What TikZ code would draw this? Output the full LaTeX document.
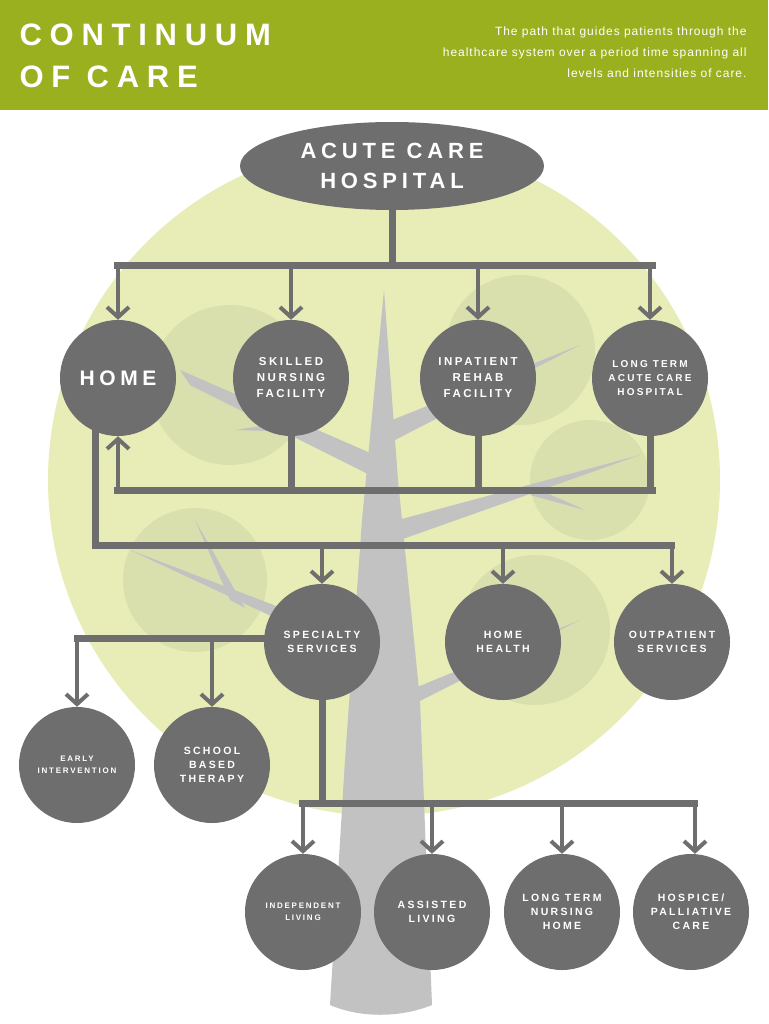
\documentclass[tikz,border=0pt]{standalone}
\usepackage{fontspec}
\setmainfont{Liberation Sans}
\newfontfamily\ttl[LetterSpace=25]{Liberation Sans}
\newfontfamily\lbl[LetterSpace=22]{Liberation Sans}
\newfontfamily\sub[LetterSpace=8]{Liberation Sans}
\usetikzlibrary{shapes.geometric,arrows.meta}
\definecolor{hdr}{HTML}{9BB01F}
\definecolor{pale}{HTML}{E8EDB8}
\definecolor{pale2}{HTML}{D9E0AE}
\definecolor{nd}{HTML}{6E6E6E}
\definecolor{trunk}{HTML}{C2C2C2}
\begin{document}
\begin{tikzpicture}[x=1pt,y=-1pt,
  cnode/.style={circle,fill=nd,minimum size=116pt,inner sep=0pt,text=white,align=center,font=\lbl\bfseries\fontsize{9}{11}\selectfont},
  conn/.style={draw=nd,line width=7pt},
  arr/.style={draw=nd,line width=4pt,-{Straight Barb[length=10pt,width=22pt,line width=4pt]}}]
\useasboundingbox (0,0) rectangle (768,1024);
\fill[white] (0,0) rectangle (768,1024);
\fill[hdr] (0,0) rectangle (768,110);
\node[anchor=west,text=white,align=left,font=\ttl\bfseries\fontsize{31}{42}\selectfont] (title) at (16,56) {CONTINUUM\\OF CARE};
\node[anchor=east,text=white,align=right,font=\sub\fontsize{12}{21}\selectfont] (desc) at (750,52) {The path that guides patients through the\\healthcare system over a period time spanning all\\levels and intensities of care.};
% background
\fill[pale] (384,480) circle (336);
\foreach \x/\y/\r in {230/385/80,520/350/75,590/480/60,195/580/72,535/630/75}
  \fill[pale2] (\x,\y) circle (\r);
% tree
\fill[trunk] (384,290) -- (398,480) -- (420,700) -- (432,1005) .. controls (400,1018) and (360,1018) .. (330,1005) -- (345,760) -- (362,520) -- cycle;
\fill[trunk] (375,455) -- (180,370) -- (190,385) -- (370,475) -- cycle;
\fill[trunk] (300,420) -- (235,430) -- (300,432) -- cycle;
\fill[trunk] (392,420) -- (580,345) -- (395,440) -- cycle;
\fill[trunk] (470,390) -- (470,325) -- (480,392) -- cycle;
\fill[trunk] (398,520) -- (640,455) -- (400,540) -- cycle;
\fill[trunk] (540,490) -- (585,510) -- (530,495) -- cycle;
\fill[trunk] (365,640) -- (130,550) -- (365,660) -- cycle;
\fill[trunk] (230,600) -- (195,520) -- (245,608) -- cycle;
\fill[trunk] (410,690) -- (580,620) -- (412,705) -- cycle;
% nodes
\node[ellipse,fill=nd,minimum width=304pt,minimum height=88pt,inner sep=0pt,text=white,align=center,font=\lbl\bfseries\fontsize{22}{30}\selectfont] (acute) at (392,166) {ACUTE CARE\\HOSPITAL};
\node[cnode,font=\lbl\bfseries\fontsize{21}{24}\selectfont] (home) at (118,378) {HOME};
\node[cnode,font=\lbl\bfseries\fontsize{11.5}{16}\selectfont] (snf) at (291,378) {SKILLED\\NURSING\\FACILITY};
\node[cnode,font=\lbl\bfseries\fontsize{11.5}{16}\selectfont] (irf) at (478,378) {INPATIENT\\REHAB\\FACILITY};
\node[cnode,font=\lbl\bfseries\fontsize{10}{14}\selectfont] (ltach) at (650,378) {LONG TERM\\ACUTE CARE\\HOSPITAL};
\node[cnode,font=\lbl\bfseries\fontsize{10.5}{14}\selectfont] (spec) at (322,642) {SPECIALTY\\SERVICES};
\node[cnode,font=\lbl\bfseries\fontsize{10.5}{14}\selectfont] (hh) at (503,642) {HOME\\HEALTH};
\node[cnode,font=\lbl\bfseries\fontsize{10.5}{14}\selectfont] (out) at (672,642) {OUTPATIENT\\SERVICES};
\node[cnode,font=\lbl\bfseries\fontsize{8}{12}\selectfont] (ei) at (77,765) {EARLY\\INTERVENTION};
\node[cnode,font=\lbl\bfseries\fontsize{10.5}{14}\selectfont] (sbt) at (212,765) {SCHOOL\\BASED\\THERAPY};
\node[cnode,font=\lbl\bfseries\fontsize{8}{12}\selectfont] (il) at (303,912) {INDEPENDENT\\LIVING};
\node[cnode,font=\lbl\bfseries\fontsize{10.5}{14}\selectfont] (al) at (432,912) {ASSISTED\\LIVING};
\node[cnode,font=\lbl\bfseries\fontsize{10.5}{14}\selectfont] (ltn) at (562,912) {LONG TERM\\NURSING\\HOME};
\node[cnode,font=\lbl\bfseries\fontsize{10.5}{14}\selectfont] (hos) at (691,912) {HOSPICE/\\PALLIATIVE\\CARE};
% connectors level 1
\coordinate (b1) at (392,265);
\draw[conn] (acute.south) -- (b1);
\draw[conn] (114,265) -- (656,265);
\foreach \n in {home,snf,irf,ltach} \draw[arr] (\n.north |- b1) -- (\n.north);
% return bar
\coordinate (b2) at (118,490);
\draw[conn] (snf.south) -- (snf.south |- b2);
\draw[conn] (irf.south) -- (irf.south |- b2);
\draw[conn] (ltach.south) -- (ltach.south |- b2);
\draw[conn] (114,490) -- (656,490);
\draw[arr] (b2) -- (home.south);
% level 2
\coordinate (hl) at (95,430);
\coordinate (b3) at (95,545);
\draw[conn] (hl) -- (b3) -- (675,545);
\foreach \n in {spec,hh,out} \draw[arr] (\n.north |- b3) -- (\n.north);
% specialty left
\coordinate (b4) at (270,638);
\draw[conn] (b4) -- (74,638);
\draw[arr] (ei.north |- b4) -- (ei.north);
\draw[arr] (sbt.north |- b4) -- (sbt.north);
% specialty down
\coordinate (b5) at (322,803);
\draw[conn] (spec.south) -- (b5);
\draw[conn] (299,803) -- (698,803);
\foreach \n in {il,al,ltn} \draw[arr] (\n.north |- b5) -- (\n.north);
\coordinate (h5) at (695,803);
\draw[arr] (h5) -- (h5 |- hos.north);
\end{tikzpicture}
\end{document}
